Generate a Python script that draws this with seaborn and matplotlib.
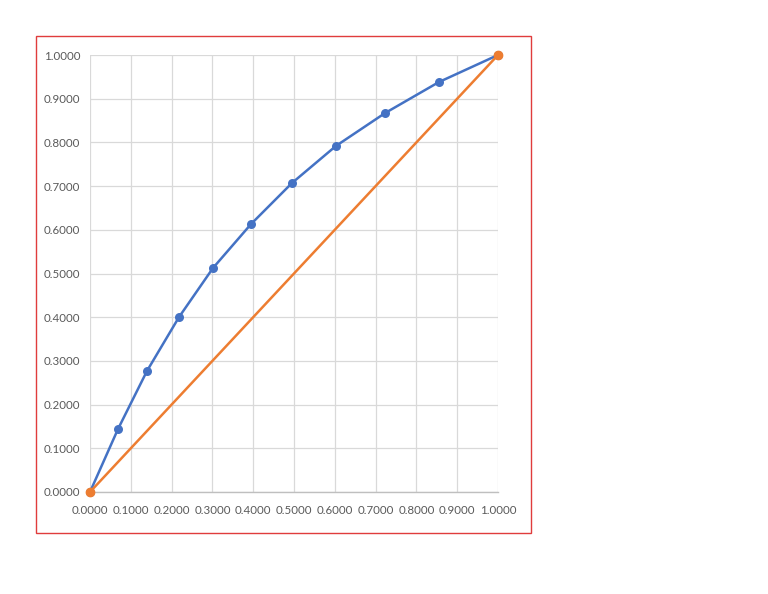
import matplotlib
matplotlib.use("Agg")
import matplotlib.pyplot as plt
import seaborn as sns
import pandas as pd
from matplotlib.patches import Rectangle

# Data
curve_x = [0.0, 0.0686, 0.1397, 0.2180, 0.3015, 0.3946, 0.4950, 0.6030, 0.7230, 0.8550, 1.0]
curve_y = [0.0, 0.1440, 0.2770, 0.4000, 0.5126, 0.6130, 0.7070, 0.7920, 0.8670, 0.9380, 1.0]
diag_x = [0.0, 1.0]
diag_y = [0.0, 1.0]
ticks = [0.0, 0.1, 0.2, 0.3, 0.4, 0.5, 0.6, 0.7, 0.8, 0.9, 1.0]
tick_labels = [f"{t:.4f}" for t in ticks]

sns.set_theme(style="white")
plt.rcParams['font.family'] = ['Lato', 'DejaVu Sans']

fig = plt.figure(figsize=(7.68, 5.94), dpi=100)
ax = fig.add_axes([90/768, 1-492/594, 408/768, 437/594])

df_curve = pd.DataFrame({"x": curve_x, "y": curve_y})
df_diag = pd.DataFrame({"x": diag_x, "y": diag_y})

sns.lineplot(data=df_curve, x="x", y="y", ax=ax, color="#4472C4", linewidth=1.8,
             marker="o", markersize=6.5, markeredgewidth=0, sort=False, zorder=3)
sns.lineplot(data=df_diag, x="x", y="y", ax=ax, color="#ED7D31", linewidth=1.8,
             marker="o", markersize=7, markeredgewidth=0, sort=False, zorder=4)

ax.set_xlim(0, 1)
ax.set_ylim(0, 1)
ax.set_xticks(ticks)
ax.set_yticks(ticks)
ax.set_xticklabels(tick_labels)
ax.set_yticklabels(tick_labels)
ax.set_xlabel("")
ax.set_ylabel("")
ax.grid(True, color="#d9d9d9", linewidth=0.9)
ax.set_axisbelow(True)
for s in ["top", "right", "left"]:
    ax.spines[s].set_visible(False)
ax.spines["bottom"].set_color("#bfbfbf")
ax.spines["bottom"].set_linewidth(1.0)
ax.tick_params(axis="both", length=0, labelsize=8.3, colors="#595959")
ax.tick_params(axis="y", pad=7)
ax.tick_params(axis="x", pad=9)
for line in ax.lines:
    line.set_clip_on(False)

fig.patches.append(Rectangle((36/768, 1-533/594), 495/768, 497/594,
                             transform=fig.transFigure, fill=False,
                             edgecolor="#e03c3c", linewidth=1.0))

fig.savefig("out.png", dpi=100)
